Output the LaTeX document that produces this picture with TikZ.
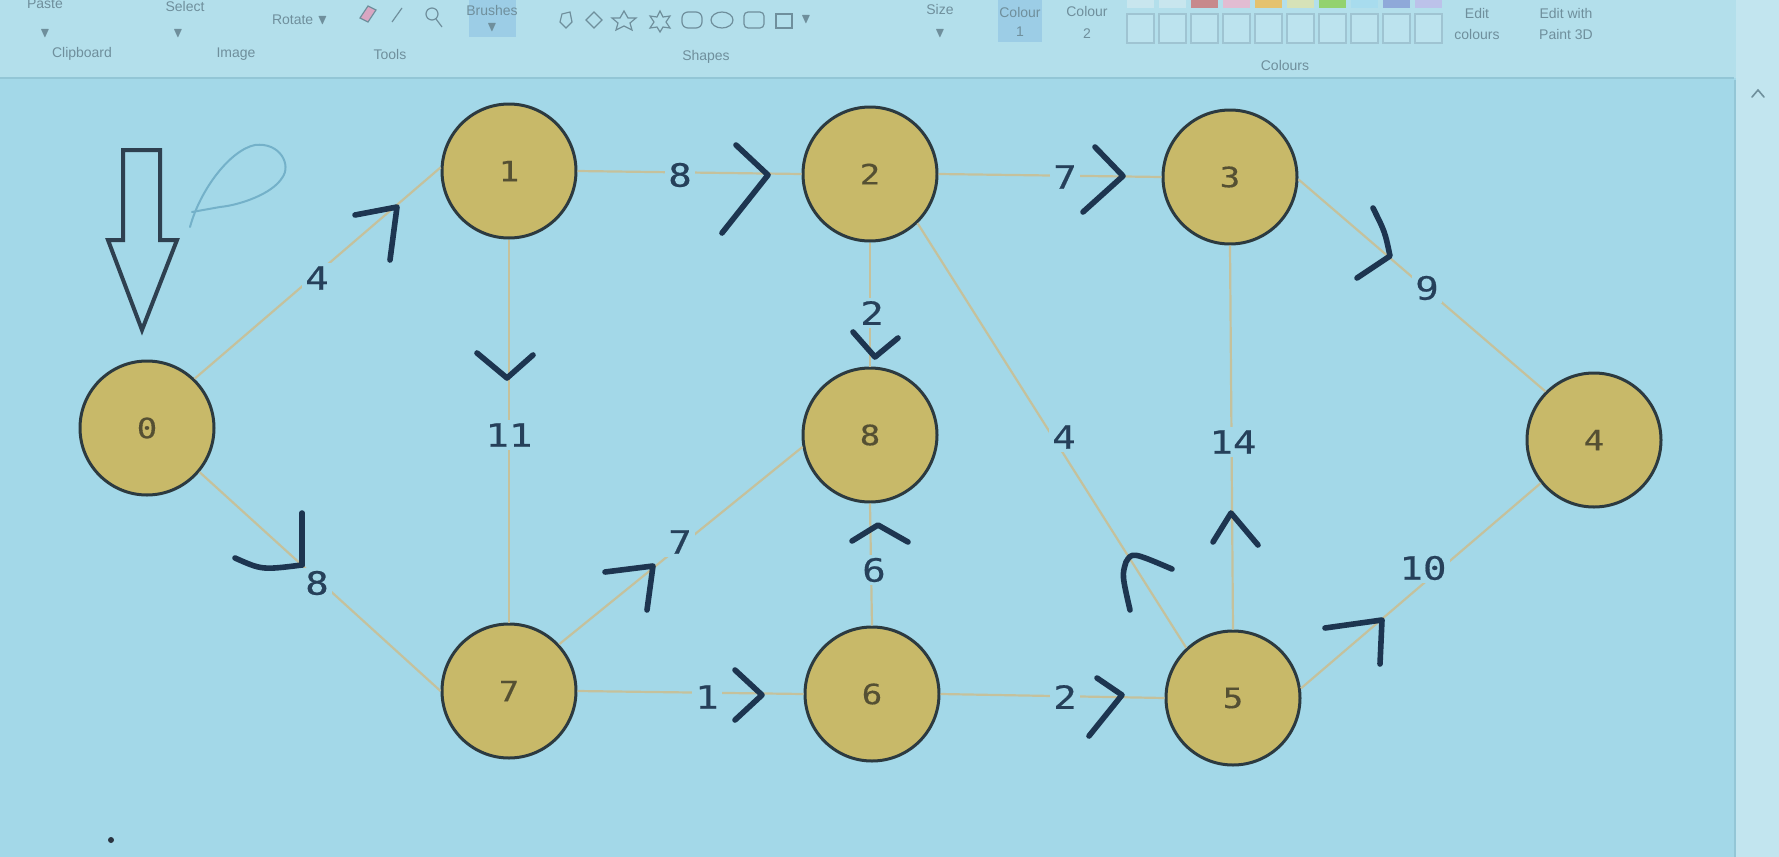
\documentclass[tikz,border=0pt]{standalone}
\usepackage{amssymb}
\usepackage{fontspec}
\setmainfont{Liberation Sans}
\newfontfamily\monof[FakeStretch=1.22,FakeBold=0.3]{DejaVu Sans Mono}
\newfontfamily\monobf[FakeStretch=1.22,FakeBold=0.6]{DejaVu Sans Mono}
\definecolor{canvas}{HTML}{A3D8E8}
\definecolor{barbg}{HTML}{B3DFEB}
\definecolor{barline}{HTML}{93C6D6}
\definecolor{scrollbg}{HTML}{C2E5EF}
\definecolor{nodefill}{HTML}{C8B969}
\definecolor{nodeline}{HTML}{2C3A40}
\definecolor{nodetext}{HTML}{555033}
\definecolor{edgecol}{HTML}{C5C19C}
\definecolor{labcol}{HTML}{26405A}
\definecolor{inkcol}{HTML}{1D3550}
\definecolor{uitext}{HTML}{6F8F9C}
\definecolor{uibox}{HTML}{9FC4D2}
\definecolor{uiboxfill}{HTML}{BCE3EE}
\definecolor{uihi}{HTML}{9CCDE6}
\definecolor{eraser}{HTML}{D9A6C2}
\definecolor{scribble}{HTML}{74B1C9}
\definecolor{arrowcol}{HTML}{2E4050}
\definecolor{dotcol}{HTML}{2A3440}
\begin{document}
\begin{tikzpicture}[x=0.5pt,y=-0.5pt,
  vertex/.style={circle,draw=nodeline,line width=1.5pt,fill=nodefill,minimum size=67pt,inner sep=0pt,text=nodetext,font=\monof\fontsize{14}{14}\selectfont},
  wt/.style={fill=canvas,inner sep=1.5pt,text=labcol,font=\monobf\fontsize{16}{16}\selectfont},
  link/.style={draw=edgecol,line width=1.1pt},
  ink/.style={draw=inkcol,line width=2.8pt,line cap=round,line join=round},
  ui/.style={text=uitext,font=\fontsize{7}{8}\selectfont,inner sep=0pt},
  uiicon/.style={draw=uitext,line width=0.6pt}]
\useasboundingbox (0,0) rectangle (1779,857);
% background and window chrome
\fill[canvas] (0,0) rectangle (1779,857);
\fill[barbg] (0,0) rectangle (1779,78);
\draw[barline,line width=1pt] (0,78) -- (1734,78);
\fill[scrollbg] (1736,0) rectangle (1779,857);
\draw[barline,line width=1pt] (1735,80) -- (1735,857);
\draw[uitext,line width=0.8pt,line cap=round] (1752,97) -- (1758,90) -- (1764,97);
% toolbar
\node[ui] (tPaste) at (45,4) {Paste};
\node[ui] (tPasteA) at (45,34) {\scriptsize$\blacktriangledown$};
\node[ui] (tSelect) at (185,6) {Select};
\node[ui] (tSelectA) at (178,34) {\scriptsize$\blacktriangledown$};
\node[ui] (tRotate) at (300,20) {Rotate $\blacktriangledown$};
\draw[uiicon,fill=eraser] (360,18) -- (368,6) -- (376,10) -- (368,22) -- cycle;
\draw[uiicon] (392,22) -- (402,8);
\draw[uiicon] (432,14) circle (6);
\draw[uiicon] (436,19) -- (442,27);
\fill[uihi] (469,0) rectangle (516,37);
\node[ui] (tBrushes) at (492,10) {Brushes};
\node[ui] (tBrushesA) at (492,28) {\scriptsize$\blacktriangledown$};
\draw[uiicon] (562,14) -- (570,12) -- (572,22) -- (566,28) -- (560,22) -- cycle;
\draw[uiicon] (586,20) -- (594,12) -- (602,20) -- (594,28) -- cycle;
\draw[uiicon] (624,11) -- (628,18) -- (636,18) -- (630,23) -- (632,30) -- (624,26) -- (616,30) -- (618,23) -- (612,18) -- (620,18) -- cycle;
\draw[uiicon] (660,11) -- (663,17) -- (670,16) -- (666,22) -- (670,28) -- (663,27) -- (660,32) -- (657,27) -- (650,28) -- (654,22) -- (650,16) -- (657,17) -- cycle;
\draw[uiicon,rounded corners=3pt] (682,12) rectangle (702,28);
\draw[uiicon] (722,20) ellipse (11 and 8);
\draw[uiicon,rounded corners=2pt] (744,12) rectangle (764,28);
\draw[uiicon] (776,14) rectangle (792,28);
\node[ui] (tShapesA) at (806,20) {\scriptsize$\blacktriangledown$};
\node[ui] (tSize) at (940,9) {Size};
\node[ui] (tSizeA) at (940,34) {\scriptsize$\blacktriangledown$};
\fill[uihi] (998,0) rectangle (1042,42);
\node[ui] (tC1) at (1020,12) {Colour};
\node[ui] (tC1b) at (1020,32) {1};
\node[ui] (tC2) at (1087,11) {Colour};
\node[ui] (tC2b) at (1087,34) {2};
\foreach \i/\c in {0/C8E6EE,1/C8E6EE,2/C7898C,3/E2BCD2,4/E4C26E,5/D6E2B8,6/93D26E,7/A8DCEE,8/8FA9D9,9/BCC2EA}{
  \definecolor{palc}{HTML}{\c}
  \fill[palc] ({1127+32*\i},-4) rectangle ({1154+32*\i},8);
  \draw[uibox,fill=uiboxfill,line width=0.6pt] ({1127+32*\i},14) rectangle ({1154+32*\i},43);
}
\node[ui] (tEdit) at (1477,13) {Edit};
\node[ui] (tEditb) at (1477,34) {colours};
\node[ui] (tP3d) at (1566,13) {Edit with};
\node[ui] (tP3db) at (1566,34) {Paint 3D};
\node[ui] (gClip) at (82,54) {Clipboard};
\node[ui] (gImage) at (236,54) {Image};
\node[ui] (gTools) at (390,54) {Tools};
\node[ui] (gShapes) at (706,57) {Shapes};
\node[ui] (gColours) at (1285,65) {Colours};
% start arrow and faint scribble
\draw[draw=arrowcol,line width=2pt,line join=miter] (123,150) -- (160,150) -- (160,240) -- (177,240) -- (142,330) -- (108,240) -- (123,240) -- cycle;
\draw[scribble,line width=1pt,line cap=round] (190,227) .. controls (200,190) and (230,150) .. (255,145) .. controls (280,142) and (292,165) .. (282,178) .. controls (272,194) and (240,205) .. (220,207) -- (192,212);
% vertices
\node[vertex] (n0) at (147,428) {0};
\node[vertex] (n1) at (509,171) {1};
\node[vertex] (n2) at (870,174) {2};
\node[vertex] (n3) at (1230,177) {3};
\node[vertex] (n4) at (1594,440) {4};
\node[vertex] (n8) at (870,435) {8};
\node[vertex] (n7) at (509,691) {7};
\node[vertex] (n6) at (872,694) {6};
\node[vertex] (n5) at (1233,698) {5};
% edges
\draw[link] (n0.46) -- (n1.177);
\draw[link] (n0.-40) -- (n7.180);
\draw[link] (n1.0) -- (n2.180);
\draw[link] (n2.0) -- (n3.180);
\draw[link] (n3.-2) -- (n4.135);
\draw[link] (n1.-90) -- (n7.90);
\draw[link] (n2.-90) -- (n8.90);
\draw[link] (n2.-46) -- (n5.133);
\draw[link] (n3.-90) -- (n5.90);
\draw[link] (n7.43) -- (n8.190);
\draw[link] (n6.90) -- (n8.-90);
\draw[link] (n7.0) -- (n6.180);
\draw[link] (n6.0) -- (n5.180);
\draw[link] (n5.8) -- (n4.219);
% weights
\node[wt] (w01) at (317,278) {4};
\node[wt] (w07) at (317,583) {8};
\node[wt] (w12) at (680,175) {8};
\node[wt] (w23) at (1065,177) {7};
\node[wt] (w34) at (1427,288) {9};
\node[wt] (w17) at (509,435) {11};
\node[wt] (w28) at (872,313) {2};
\node[wt] (w25) at (1064,437) {4};
\node[wt] (w35) at (1233,442) {14};
\node[wt] (w78) at (680,542) {7};
\node[wt] (w68) at (874,570) {6};
\node[wt] (w76) at (707,697) {1};
\node[wt] (w65) at (1065,697) {2};
\node[wt] (w54) at (1423,568) {10};
% hand-drawn arrowheads
\draw[ink] (355,215) -- (397,207) -- (390,260);
\draw[ink] (302,513) -- (302,565);
\draw[ink] (235,558) .. controls (262,570) .. (302,565);
\draw[ink] (736,145) -- (768,175) -- (722,233);
\draw[ink] (1095,147) -- (1123,176) -- (1083,212);
\draw[ink] (1373,208) .. controls (1385,232) .. (1390,256) -- (1357,278);
\draw[ink] (477,353) -- (507,378) -- (533,355);
\draw[ink] (853,332) -- (875,357) -- (898,338);
\draw[ink] (1130,610) .. controls (1122,575) .. (1126,562) .. controls (1132,552) .. (1172,569);
\draw[ink] (1213,542) -- (1231,513) -- (1258,545);
\draw[ink] (605,572) -- (653,566) -- (647,610);
\draw[ink] (852,541) -- (878,525) -- (908,542);
\draw[ink] (735,670) -- (762,695) -- (735,720);
\draw[ink] (1097,678) -- (1122,695) -- (1089,736);
\draw[ink] (1325,628) -- (1382,620) -- (1380,664);
\fill[dotcol] (111,840) circle (3);
\end{tikzpicture}
\end{document}
